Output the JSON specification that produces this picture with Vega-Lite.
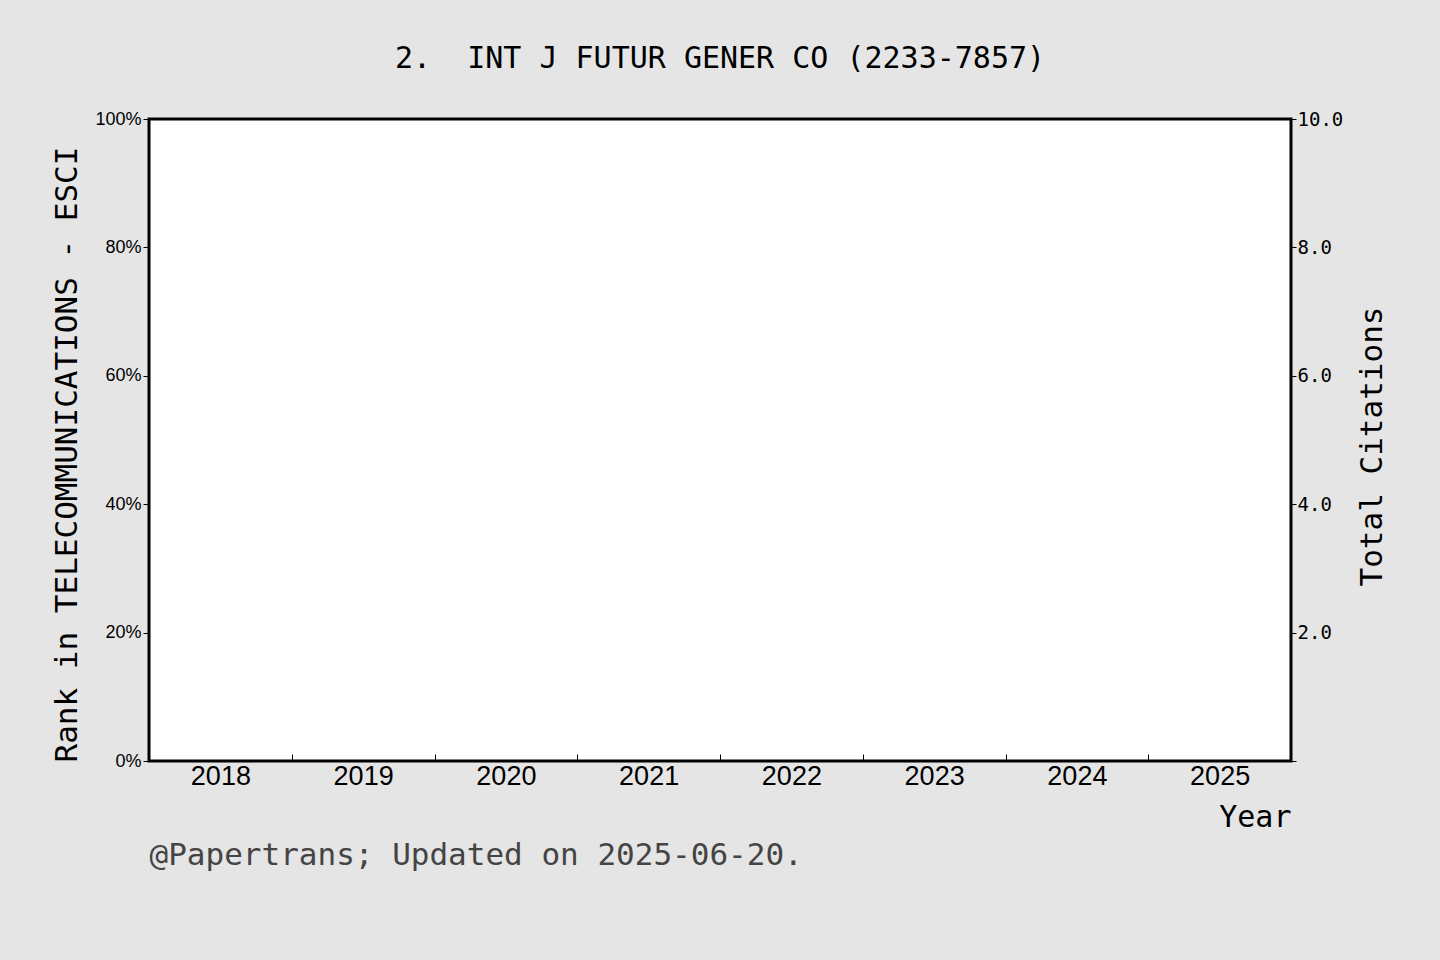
{
  "$schema": "https://vega.github.io/schema/vega-lite/v6.json",
  "width": 1142,
  "height": 642,
  "autosize": {"type": "none"},
  "padding": {"left": 149, "top": 119, "right": 149, "bottom": 199},
  "background": "#e5e5e5",
  "title": {
    "text": "2.\u00a0 INT J FUTUR GENER CO (2233-7857)",
    "font": "DejaVu Sans Mono",
    "fontSize": 30,
    "fontWeight": "normal",
    "color": "#000000",
    "anchor": "middle",
    "frame": "group",
    "offset": 36
  },
  "config": {
    "view": {"fill": "#ffffff", "stroke": "#000000", "strokeWidth": 3},
    "axis": {"domain": false, "grid": false, "tickColor": "#000000", "labelColor": "#000000", "titleColor": "#000000"}
  },
  "data": {
    "values": [
      {"year": "2018", "rank": null, "citations": null},
      {"year": "2019", "rank": null, "citations": null},
      {"year": "2020", "rank": null, "citations": null},
      {"year": "2021", "rank": null, "citations": null},
      {"year": "2022", "rank": null, "citations": null},
      {"year": "2023", "rank": null, "citations": null},
      {"year": "2024", "rank": null, "citations": null},
      {"year": "2025", "rank": null, "citations": null}
    ]
  },
  "layer": [
    {
      "mark": {"type": "bar", "color": "#1f4e9a"},
      "encoding": {
        "x": {
          "field": "year",
          "type": "ordinal",
          "scale": {"type": "band", "domain": ["2018", "2019", "2020", "2021", "2022", "2023", "2024", "2025"], "paddingInner": 0, "paddingOuter": 0},
          "axis": {
            "orient": "bottom",
            "title": "Year",
            "titleFont": "DejaVu Sans Mono",
            "titleFontSize": 30,
            "titleFontWeight": "normal",
            "titleAnchor": "end",
            "titleAlign": "right",
            "titlePadding": 13,
            "labelFont": "Liberation Sans",
            "labelFontSize": 27,
            "labelAngle": 0,
            "labelPadding": 9,
            "tickBand": "extent",
            "tickSize": -7,
            "tickWidth": 1
          }
        },
        "y": {
          "field": "rank",
          "type": "quantitative",
          "scale": {"domain": [0, 1], "nice": false, "zero": true},
          "axis": {
            "orient": "left",
            "title": "Rank in TELECOMMUNICATIONS - ESCI",
            "titleFont": "DejaVu Sans Mono",
            "titleFontSize": 31,
            "titleFontWeight": "normal",
            "titlePadding": 11,
            "titleY": 335,
            "values": [0, 0.2, 0.4, 0.6, 0.8, 1],
            "format": ".0%",
            "labelFont": "Liberation Sans",
            "labelFontSize": 18,
            "labelPadding": 2,
            "tickSize": 6,
            "tickWidth": 1
          }
        }
      }
    },
    {
      "mark": {"type": "bar", "color": "#d62728"},
      "encoding": {
        "x": {
          "field": "year",
          "type": "ordinal",
          "scale": {"type": "band", "domain": ["2018", "2019", "2020", "2021", "2022", "2023", "2024", "2025"], "paddingInner": 0, "paddingOuter": 0},
          "axis": {
            "orient": "bottom",
            "title": "@Papertrans; Updated on 2025-06-20.",
            "titleFont": "DejaVu Sans Mono",
            "titleFontSize": 31,
            "titleFontWeight": "normal",
            "titleColor": "#444444",
            "titleAnchor": "start",
            "titleAlign": "left",
            "titlePadding": 0,
            "labels": false,
            "ticks": false,
            "domain": false,
            "offset": 79
          }
        },
        "y": {
          "field": "citations",
          "type": "quantitative",
          "scale": {"domain": [0, 10], "nice": false, "zero": true},
          "axis": {
            "orient": "right",
            "title": "Total Citations",
            "titleFont": "DejaVu Sans Mono",
            "titleFontSize": 31,
            "titleFontWeight": "normal",
            "titleAngle": 270,
            "titlePadding": 46,
            "titleY": 327,
            "values": [0, 2, 4, 6, 8, 10],
            "labelExpr": "datum.value == 0 ? '' : format(datum.value, '.1f')",
            "labelFont": "DejaVu Sans Mono",
            "labelFontSize": 19,
            "labelPadding": 1,
            "tickSize": 5,
            "tickWidth": 1
          }
        }
      }
    }
  ],
  "resolve": {"scale": {"y": "independent"}, "axis": {"x": "independent", "y": "independent"}}
}
